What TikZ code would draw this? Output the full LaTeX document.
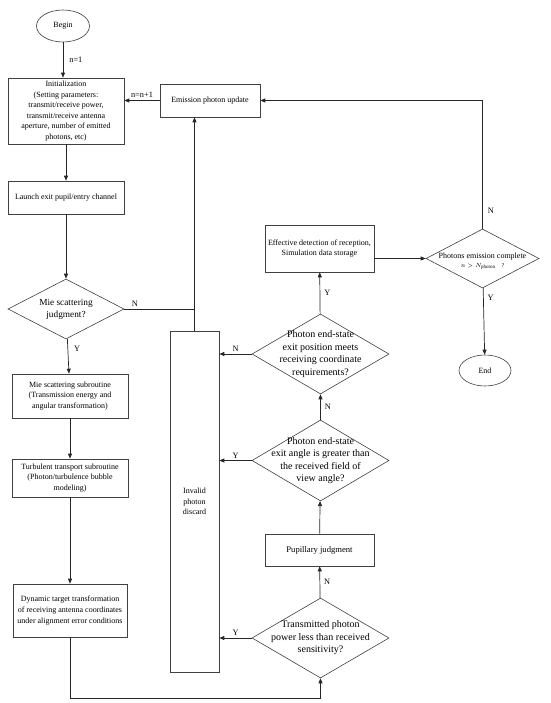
\documentclass[tikz,border=0pt]{standalone}
\usepackage{fontspec}
\setmainfont{Liberation Serif}
\usetikzlibrary{shapes.geometric,arrows.meta}
\begin{document}
\begin{tikzpicture}[x=1pt,y=-1pt,
		every node/.style={font=\fontsize{8}{10.6}\selectfont},
		box/.style={draw=black!75,line width=0.6pt,align=center,inner sep=0pt},
		term/.style={draw=black!75,line width=0.6pt,ellipse,inner sep=0pt},
		dia/.style={draw=black!75,line width=0.6pt,diamond,inner sep=0pt},
		txt/.style={align=center,inner sep=0pt,font=\fontsize{10}{12.4}\selectfont},
		lab/.style={font=\fontsize{8.3}{9}\selectfont,inner sep=2pt},
		line/.style={draw=black!85,line width=0.7pt},
		>={Triangle[length=5pt,width=4pt]}]
			\useasboundingbox (0,0) rectangle (550,703);
			\node[term,minimum width=53pt,minimum height=32pt] (begin) at (63,26) {Begin};
			\node[box,minimum width=116pt,minimum height=66pt] (init) at (66,111) {Initialization\\(Setting parameters:\\transmit/receive power,\\transmit/receive antenna\\aperture, number of emitted\\photons, etc)};
			\node[box,minimum width=100pt,minimum height=33pt] (emis) at (210,100.5) {Emission photon update};
			\node[box,minimum width=116pt,minimum height=33pt] (launch) at (66,197.5) {Launch exit pupil/entry channel};
			\node[dia,minimum width=116pt,minimum height=60pt,label={[txt,font=\fontsize{9.3}{12}\selectfont]center:{Mie scattering\\judgment?}}] (mie) at (66,309) {};
			\node[box,minimum width=116pt,minimum height=44pt] (mies) at (70,396) {Mie scattering subroutine\\(Transmission energy and\\angular transformation)};
			\node[box,minimum width=116pt,minimum height=38pt] (turb) at (70,478) {Turbulent transport subroutine\\(Photon/turbulence bubble\\modeling)};
			\node[box,minimum width=114pt,minimum height=53pt] (dyn) at (70,610.5) {Dynamic target transformation\\of receiving antenna coordinates\\under alignment error conditions};
			\node[box,minimum width=49pt,minimum height=341pt] (inval) at (194.5,501.5) {Invalid\\photon\\discard};
			\node[dia,minimum width=137pt,minimum height=80pt,label={[txt]center:{Transmitted photon\\power less than received\\sensitivity?}}] (trans) at (320.5,638) {};
			\node[box,minimum width=109pt,minimum height=32pt,font=\fontsize{8.6}{10.6}\selectfont] (pup) at (319.5,550) {Pupillary judgment};
			\node[dia,minimum width=137pt,minimum height=81pt,label={[txt]center:{Photon end-state\\exit angle is greater than\\the received field of\\view angle?}}] (ang) at (320.5,460.5) {};
			\node[dia,minimum width=137pt,minimum height=80pt,label={[txt]center:{Photon end-state\\exit position meets\\receiving coordinate\\requirements?}}] (pos) at (320.5,354) {};
			\node[box,minimum width=109pt,minimum height=47pt] (eff) at (319.5,248.5) {Effective detection of reception,\\Simulation data storage};
			\node[dia,minimum width=113pt,minimum height=59pt,label={[align=center,inner sep=0pt,yshift=-3pt]center:{Photons emission complete\\[-2pt]{\fontsize{6}{7}\selectfont$n>N_{\mathrm{photon}}$\quad ?}}}] (done) at (482.5,258.5) {};
			\node[term,minimum width=52pt,minimum height=31pt] (end) at (485,370.5) {End};
			\coordinate (bot) at (0,698);
			\draw[line,->] (begin.south) -- node[lab,right,xshift=4pt]{n=1} (begin.south |- init.north);
			\draw[line,->] (emis.west) -- node[lab,above,yshift=1pt]{n=n+1} (emis.west -| init.east);
			\draw[line,->] (init) -- (launch);
			\draw[line,->] (launch) -- (mie);
			\draw[line,->] (mie) -- node[lab,right,pos=0.3,xshift=4pt]{Y} (mies);
			\draw[line,->] (mies) -- (turb);
			\draw[line,->] (turb) -- (dyn);
			\draw[line,->] (dyn.south) -- (dyn.south |- bot) -| (trans.south);
			\draw[line] (mie.east) -- node[lab,above,pos=0.15]{N} (mie.east -| inval.north);
			\draw[line,->] (inval.north) -- (inval.north |- emis.south);
			\draw[line,->] (trans.west) -- node[lab,above]{Y} (trans.west -| inval.east);
			\draw[line,->] (ang.west) -- node[lab,above]{Y} (ang.west -| inval.east);
			\draw[line,->] (pos.west) -- node[lab,above]{N} (pos.west -| inval.east);
			\draw[line,->] (trans) -- node[lab,right,xshift=2pt]{N} (pup);
			\draw[line,->] (pup) -- (ang);
			\draw[line,->] (ang) -- node[lab,right,xshift=2pt]{N} (pos);
			\draw[line,->] (pos) -- node[lab,right,xshift=2pt]{Y} (eff);
			\draw[line,->] (done.west -| eff.east) -- (done.west);
			\draw[line,->] (done.north) |- node[lab,right,pos=0.07,xshift=3pt]{N} (emis.east);
			\draw[line,->] (done) -- node[lab,right,pos=0.15,xshift=2pt]{Y} (end);
		\end{tikzpicture}
\end{document}
